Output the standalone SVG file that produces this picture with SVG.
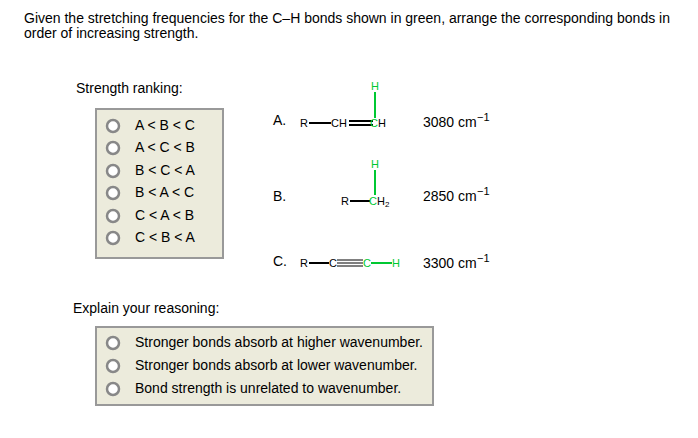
<svg xmlns="http://www.w3.org/2000/svg" width="698" height="438" viewBox="0 0 698 438">
<style>
text{font-family:"Liberation Sans",Arial,sans-serif;font-size:14px;fill:#000}
.s{font-size:11px}
.g{fill:#00c832}
.box{fill:#ecebdc;stroke:#999;stroke-width:2}
.r{fill:#fff;stroke:#888;stroke-width:2.5}
.b{stroke:#000;stroke-width:2}
.gl{stroke:#00c832;stroke-width:2}
.t{stroke:#000;stroke-width:1}
</style>
<rect width="698" height="438" fill="#fff"/>
<text x="24" y="23" font-size="13.8">Given the stretching frequencies for the C–H bonds shown in green, arrange the corresponding bonds in</text>
<text x="24" y="38" font-size="13.8">order of increasing strength.</text>
<text x="76" y="93">Strength ranking:</text>
<g id="ranking">
<rect class="box" x="96" y="109" width="127" height="149"/>
<circle class="r" cx="113" cy="126" r="6"/><text x="135" y="130">A &lt; B &lt; C</text>
<circle class="r" cx="113" cy="148" r="6"/><text x="135" y="152">A &lt; C &lt; B</text>
<circle class="r" cx="113" cy="171" r="6"/><text x="135" y="175">B &lt; C &lt; A</text>
<circle class="r" cx="113" cy="193" r="6"/><text x="135" y="197">B &lt; A &lt; C</text>
<circle class="r" cx="113" cy="216" r="6"/><text x="135" y="220">C &lt; A &lt; B</text>
<circle class="r" cx="113" cy="238" r="6"/><text x="135" y="242">C &lt; B &lt; A</text>
</g>
<g id="molA">
<text x="273" y="125">A.</text>
<text class="s" x="300" y="127">R</text>
<line class="b" x1="309" y1="123" x2="331" y2="123"/>
<text class="s" x="331" y="127">CH</text>
<line class="b" x1="349" y1="121" x2="373" y2="121"/>
<line class="b" x1="349" y1="125" x2="373" y2="125"/>
<text class="s g" x="370" y="127">C</text>
<text class="s" x="378" y="127">H</text>
<line class="gl" x1="375" y1="92" x2="375" y2="118"/>
<text class="s g" x="371" y="90">H</text>
<text x="423" y="127">3080 cm</text><text class="s" x="477" y="121">−1</text>
</g>
<g id="molB">
<text x="273" y="201">B.</text>
<text class="s" x="341" y="205">R</text>
<line class="b" x1="350" y1="201" x2="370" y2="201"/>
<text class="s g" x="369" y="205">C</text>
<text class="s" x="377" y="205">H<tspan font-size="8" dy="2">2</tspan></text>
<line class="gl" x1="375" y1="170" x2="375" y2="195"/>
<text class="s g" x="371" y="168">H</text>
<text x="423" y="201">2850 cm</text><text class="s" x="477" y="195">−1</text>
</g>
<g id="molC">
<text x="273" y="266">C.</text>
<text class="s" x="300" y="267">R</text>
<line class="b" x1="309" y1="263" x2="329" y2="263"/>
<text class="s" x="329" y="267">C</text>
<line class="t" x1="337" y1="260" x2="363" y2="260"/>
<line class="t" x1="337" y1="263" x2="363" y2="263"/>
<line class="t" x1="337" y1="266" x2="363" y2="266"/>
<text class="s g" x="363" y="267">C</text>
<line class="gl" x1="371" y1="263" x2="392" y2="263"/>
<text class="s g" x="392" y="267">H</text>
<text x="423" y="268">3300 cm</text><text class="s" x="477" y="262">−1</text>
</g>
<text x="73" y="313" font-size="13">Explain your reasoning:</text>
<g id="reasoning">
<rect class="box" x="96" y="327" width="337" height="78"/>
<circle class="r" cx="113" cy="343" r="6"/><text x="135" y="347">Stronger bonds absorb at higher wavenumber.</text>
<circle class="r" cx="113" cy="366" r="6"/><text x="135" y="370">Stronger bonds absorb at lower wavenumber.</text>
<circle class="r" cx="113" cy="389" r="6"/><text x="135" y="393">Bond strength is unrelated to wavenumber.</text>
</g>
</svg>
